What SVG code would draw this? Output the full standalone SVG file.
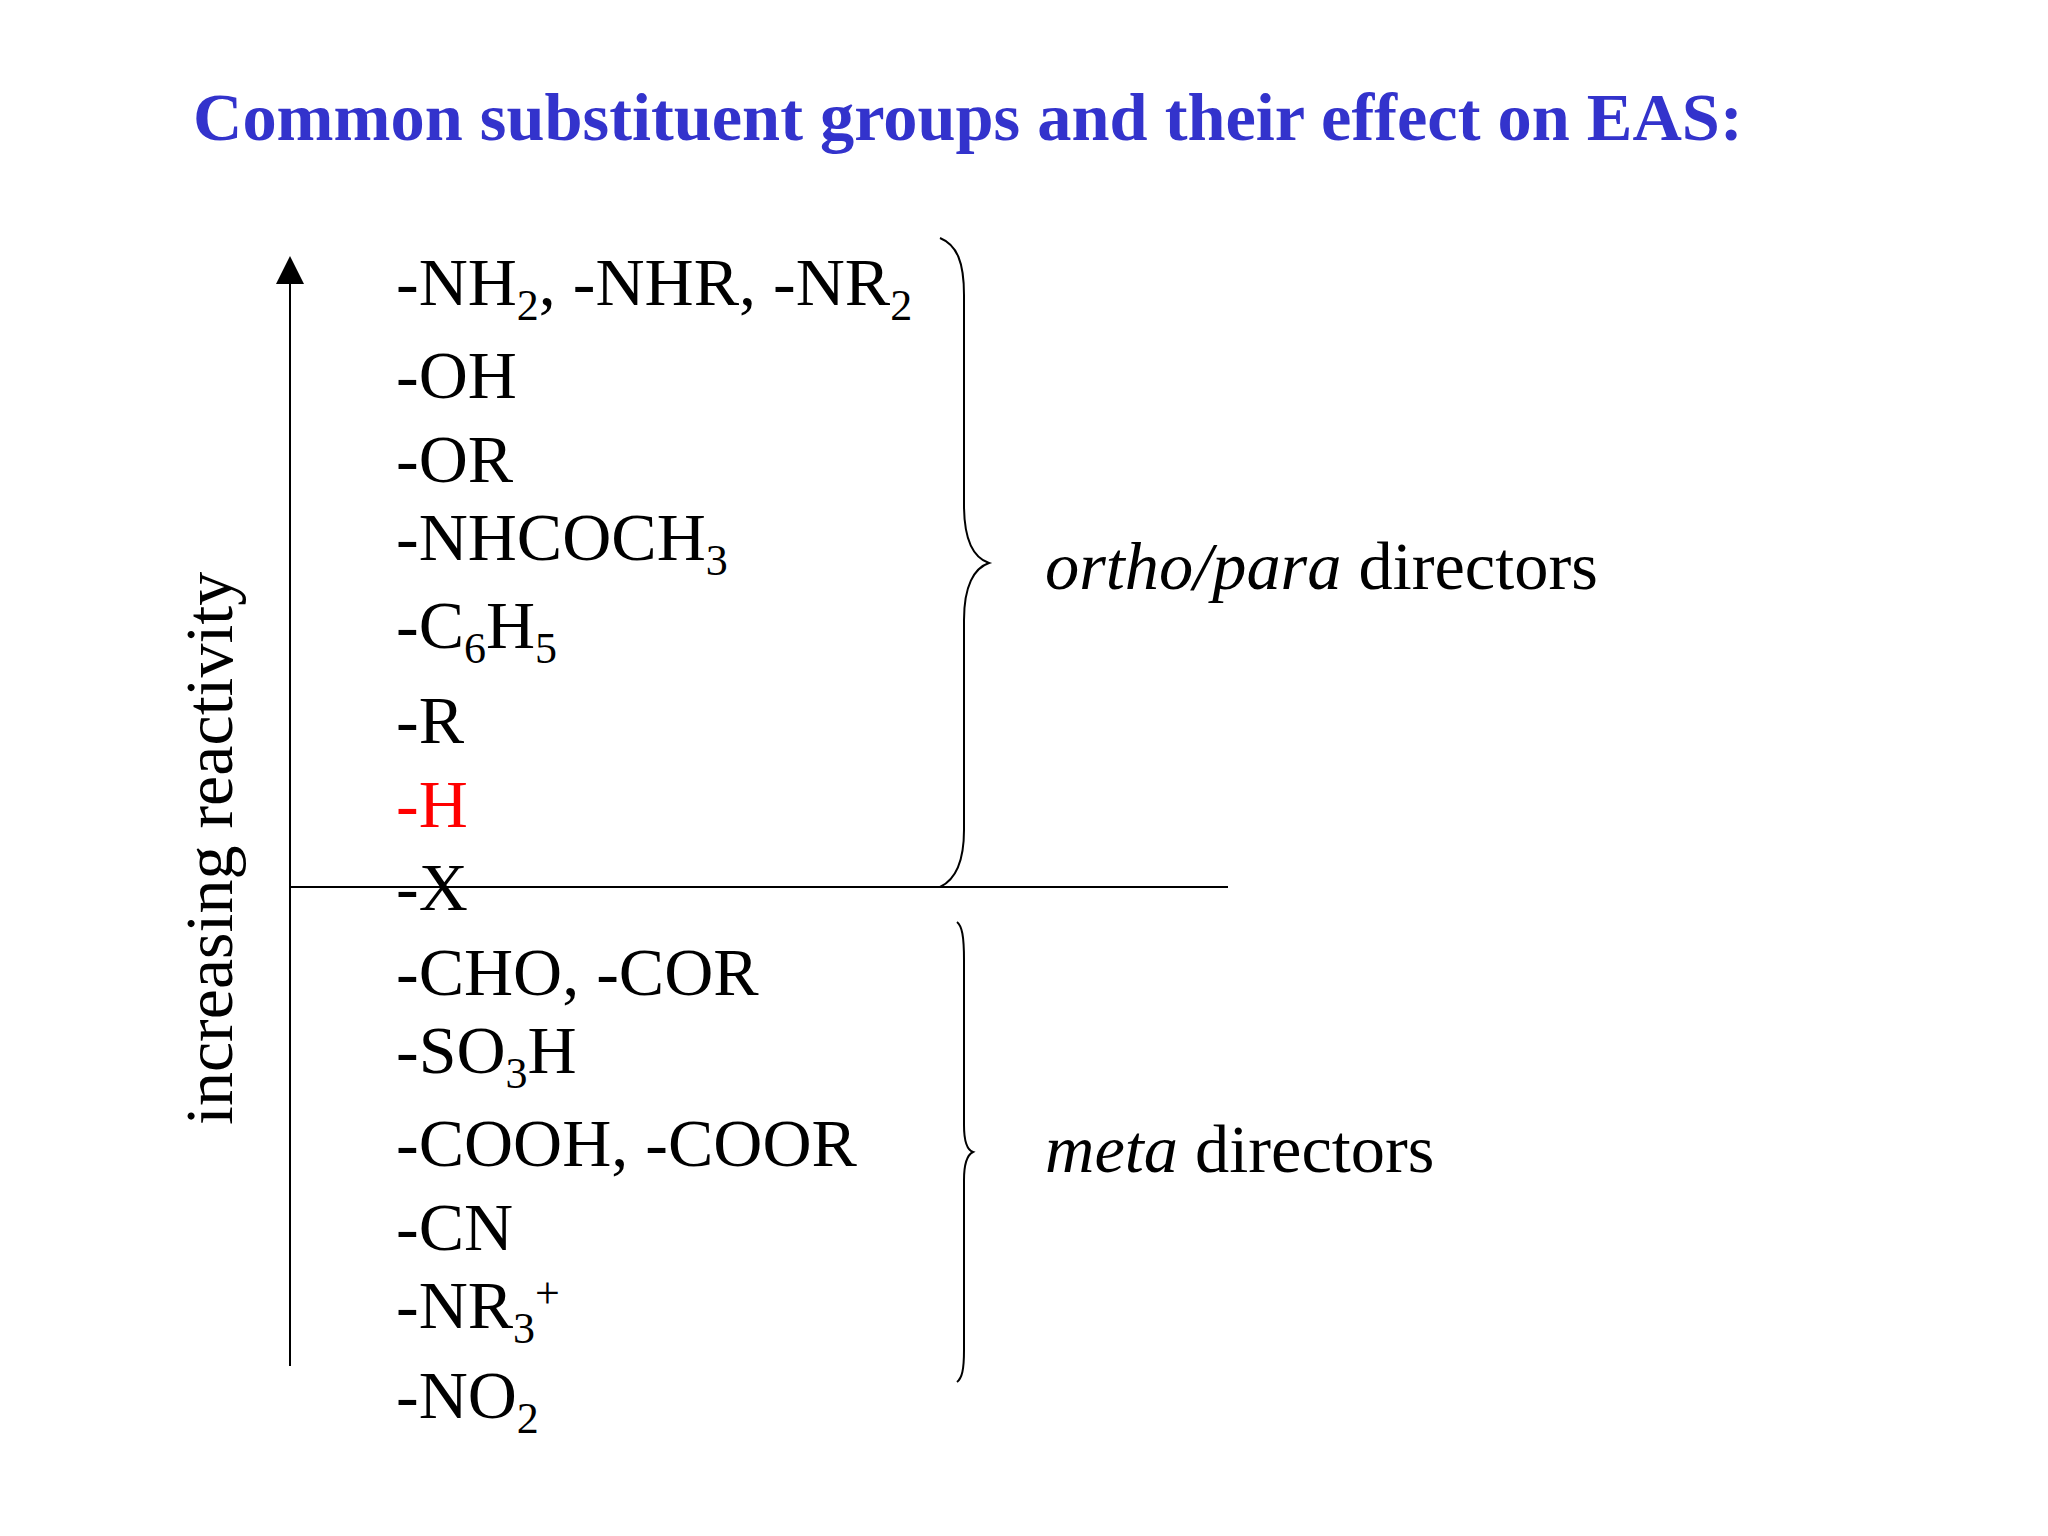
<svg xmlns="http://www.w3.org/2000/svg" width="2048" height="1536" viewBox="0 0 2048 1536">
<style>
text,tspan{font-family:"Liberation Serif","Times New Roman",serif}
text{font-size:68px;fill:#000}
.title{font-weight:bold;fill:#3333CC;font-size:68.4px}
.sub{font-size:44px;font-family:"Liberation Serif","Times New Roman",serif}
.red{fill:#FF0000}
.it{font-style:italic}
.lbl{font-size:68.4px}
.ln{stroke:#000;stroke-width:2;fill:none}
</style>
<rect width="2048" height="1536" fill="#FFFFFF"/>
<g id="title"><text class="title" x="193" y="140">Common substituent groups and their effect on EAS:</text></g>
<g id="axis">
<line class="ln" x1="290" y1="282" x2="290" y2="1366"/>
<polygon points="290,256 276,284 304,284" fill="#000"/>
<text transform="translate(232,1125) rotate(-90)">increasing reactivity</text>
</g>
<g id="connectors">
<line class="ln" x1="290" y1="887" x2="1228" y2="887"/>
<path class="ln" d="M940 238 C957 245 964 262 964 295 L964 505 C964 540 974 558 989 563 C974 568 964 586 964 620 L964 830 C964 862 955 880 940 887"/>
<path class="ln" d="M957 922 C962 926 964 936 964 960 L964 1125 C964 1141 967 1150 973 1152 C967 1155 964 1165 964 1180 L964 1350 C964 1370 962 1378 957 1382"/>
</g>
<g id="ortho-para-list">
<text x="396" y="305">-NH<tspan class="sub" dy="15">2</tspan><tspan dy="-15">, -NHR, -NR</tspan><tspan class="sub" dy="15">2</tspan></text>
<text x="396" y="398">-OH</text>
<text x="396" y="482">-OR</text>
<text x="396" y="560">-NHCOCH<tspan class="sub" dy="15">3</tspan></text>
<text x="396" y="648">-C<tspan class="sub" dy="15">6</tspan><tspan dy="-15">H</tspan><tspan class="sub" dy="15">5</tspan></text>
<text x="396" y="743">-R</text>
<text class="red" x="396" y="827">-H</text>
<text x="396" y="910">-X</text>
</g>
<g id="meta-list">
<text x="396" y="995">-CHO, -COR</text>
<text x="396" y="1073">-SO<tspan class="sub" dy="15">3</tspan><tspan dy="-15">H</tspan></text>
<text x="396" y="1166">-COOH, -COOR</text>
<text x="396" y="1250">-CN</text>
<text x="396" y="1328">-NR<tspan class="sub" dy="15">3</tspan><tspan class="sub" dy="-35">+</tspan></text>
<text x="396" y="1418">-NO<tspan class="sub" dy="15">2</tspan></text>
</g>
<g id="ortho-para-label"><text class="lbl" x="1045" y="589"><tspan class="it">ortho/para</tspan> directors</text></g>
<g id="meta-label"><text class="lbl" x="1045" y="1172"><tspan class="it">meta</tspan> directors</text></g>
</svg>
